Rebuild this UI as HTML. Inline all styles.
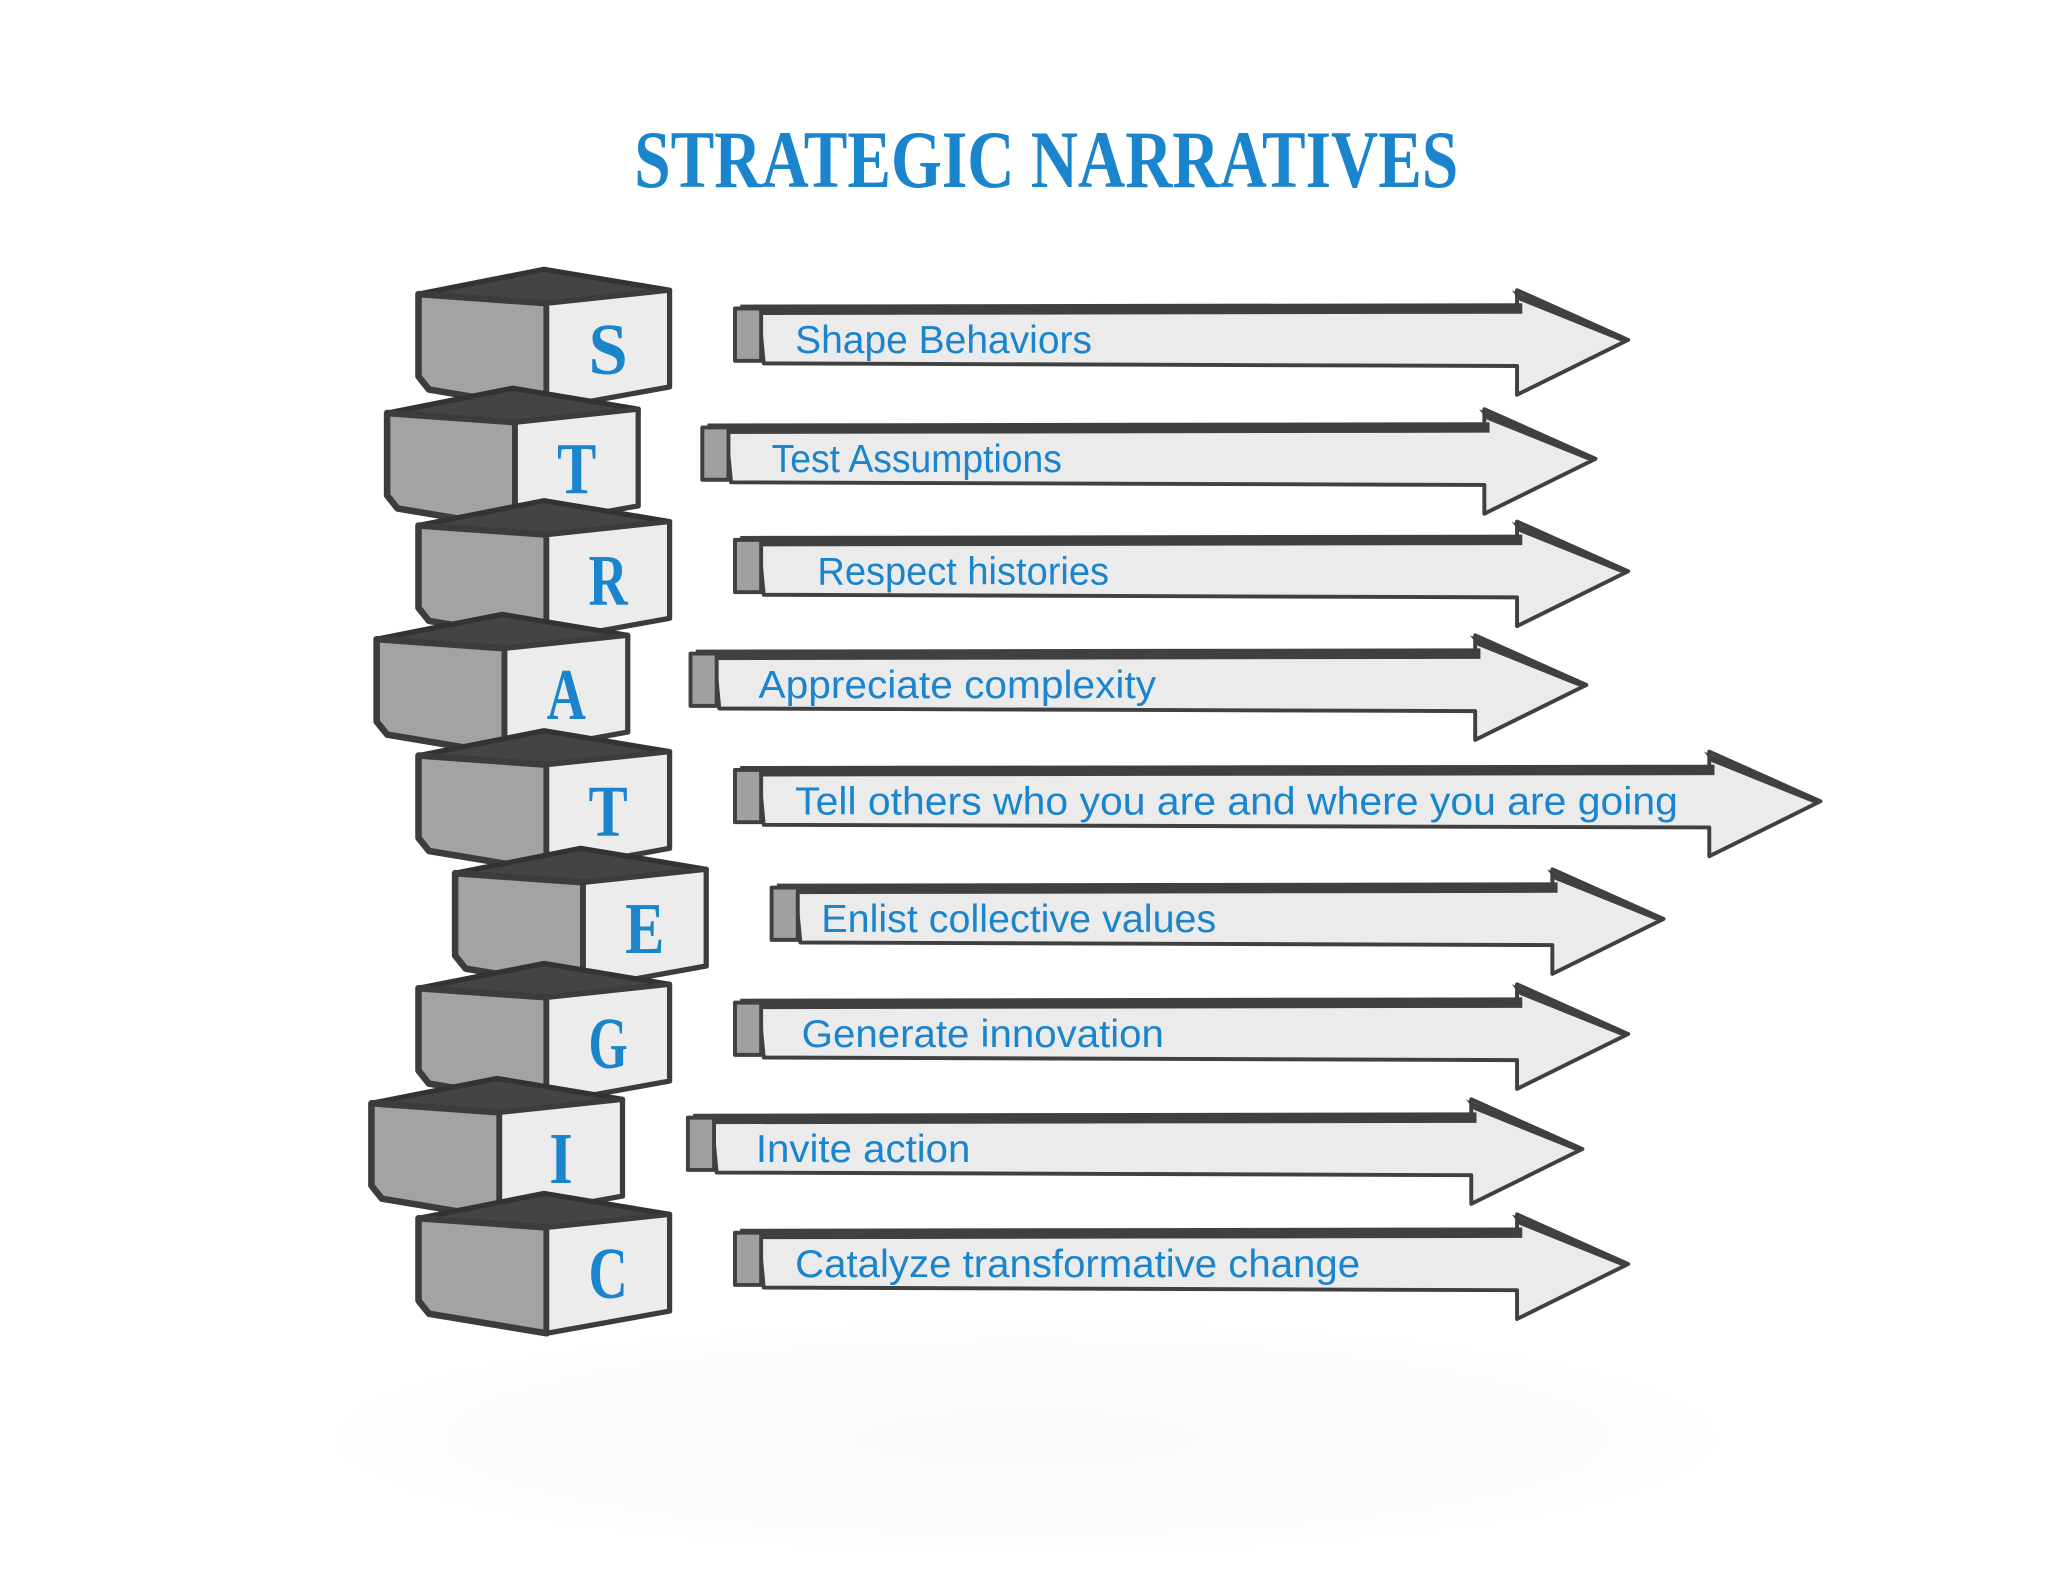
<!DOCTYPE html>
<html><head><meta charset="utf-8"><style>html,body{margin:0;padding:0;background:#fff}svg{display:block}</style></head>
<body>
<svg width="2048" height="1583" viewBox="0 0 1566 1211" preserveAspectRatio="none" xmlns="http://www.w3.org/2000/svg">
<defs>
<radialGradient id="sh" cx="0.5" cy="0.5" r="0.5"><stop offset="0" stop-color="#fbfafa"/><stop offset="0.7" stop-color="#fcfbfb"/><stop offset="1" stop-color="#fff"/></radialGradient>
<g id="cube">
<polygon points="0,-33 96,-52 192,-36 98,-26" fill="#444" stroke="#333" stroke-width="4" stroke-linejoin="round"/>
<polygon points="0,-33 98,-26 98,55 8,40 0,30" fill="#a3a3a3" stroke="#3c3c3c" stroke-width="5" stroke-linejoin="round"/>
<polygon points="98,-26 192,-36 192,38 98,55" fill="#ececec" stroke="#3c3c3c" stroke-width="4" stroke-linejoin="round"/>
</g>
</defs>
<ellipse cx="785" cy="1100" rx="540" ry="90" fill="url(#sh)"/>
<text x="800" y="143" text-anchor="middle" font-family="Liberation Serif, serif" font-weight="bold" font-size="62" fill="#1a84cc" textLength="630" lengthAdjust="spacingAndGlyphs">STRATEGIC NARRATIVES</text>

<g stroke-linejoin="round">
<g transform="translate(0,258)">
<use href="#cube" x="320" y="0"/>
<text x="465" y="28" text-anchor="middle" font-family="Liberation Serif, serif" font-weight="bold" font-size="56" fill="#1a84cc" textLength="30" lengthAdjust="spacingAndGlyphs">S</text>
<polygon points="580,-22 1160,-22 1160,-36 1245,2 1160,44 1160,22 584,20" fill="#ebebeb" stroke="#404040" stroke-width="3"/>
<line x1="566" y1="-21" x2="1164" y2="-22" stroke="#404040" stroke-width="8"/>
<polygon points="1156,-36 1245,2 1239,3 1162,-28" fill="#404040"/>
<rect x="562" y="-22" width="20" height="40" fill="#a0a0a0" stroke="#404040" stroke-width="3"/>
<text x="608" y="12" font-family="Liberation Sans, sans-serif" font-size="30" fill="#1a84cc" textLength="227" lengthAdjust="spacingAndGlyphs">Shape Behaviors</text>
</g>
<g transform="translate(0,349)">
<use href="#cube" x="296" y="0"/>
<text x="441" y="28" text-anchor="middle" font-family="Liberation Serif, serif" font-weight="bold" font-size="56" fill="#1a84cc" textLength="30" lengthAdjust="spacingAndGlyphs">T</text>
<polygon points="555,-22 1135,-22 1135,-36 1220,2 1135,44 1135,22 559,20" fill="#ebebeb" stroke="#404040" stroke-width="3"/>
<line x1="541" y1="-21" x2="1139" y2="-22" stroke="#404040" stroke-width="8"/>
<polygon points="1131,-36 1220,2 1214,3 1137,-28" fill="#404040"/>
<rect x="537" y="-22" width="20" height="40" fill="#a0a0a0" stroke="#404040" stroke-width="3"/>
<text x="590" y="12" font-family="Liberation Sans, sans-serif" font-size="30" fill="#1a84cc" textLength="222" lengthAdjust="spacingAndGlyphs">Test Assumptions</text>
</g>
<g transform="translate(0,435)">
<use href="#cube" x="320" y="0"/>
<text x="465" y="28" text-anchor="middle" font-family="Liberation Serif, serif" font-weight="bold" font-size="56" fill="#1a84cc" textLength="30" lengthAdjust="spacingAndGlyphs">R</text>
<polygon points="580,-22 1160,-22 1160,-36 1245,2 1160,44 1160,22 584,20" fill="#ebebeb" stroke="#404040" stroke-width="3"/>
<line x1="566" y1="-21" x2="1164" y2="-22" stroke="#404040" stroke-width="8"/>
<polygon points="1156,-36 1245,2 1239,3 1162,-28" fill="#404040"/>
<rect x="562" y="-22" width="20" height="40" fill="#a0a0a0" stroke="#404040" stroke-width="3"/>
<text x="625" y="12" font-family="Liberation Sans, sans-serif" font-size="30" fill="#1a84cc" textLength="223" lengthAdjust="spacingAndGlyphs">Respect histories</text>
</g>
<g transform="translate(0,522)">
<use href="#cube" x="288" y="0"/>
<text x="433" y="28" text-anchor="middle" font-family="Liberation Serif, serif" font-weight="bold" font-size="56" fill="#1a84cc" textLength="30" lengthAdjust="spacingAndGlyphs">A</text>
<polygon points="546,-22 1128,-22 1128,-36 1213,2 1128,44 1128,22 550,20" fill="#ebebeb" stroke="#404040" stroke-width="3"/>
<line x1="532" y1="-21" x2="1132" y2="-22" stroke="#404040" stroke-width="8"/>
<polygon points="1124,-36 1213,2 1207,3 1130,-28" fill="#404040"/>
<rect x="528" y="-22" width="20" height="40" fill="#a0a0a0" stroke="#404040" stroke-width="3"/>
<text x="580" y="12" font-family="Liberation Sans, sans-serif" font-size="30" fill="#1a84cc" textLength="304" lengthAdjust="spacingAndGlyphs">Appreciate complexity</text>
</g>
<g transform="translate(0,611)">
<use href="#cube" x="320" y="0"/>
<text x="465" y="28" text-anchor="middle" font-family="Liberation Serif, serif" font-weight="bold" font-size="56" fill="#1a84cc" textLength="30" lengthAdjust="spacingAndGlyphs">T</text>
<polygon points="580,-22 1307,-22 1307,-36 1392,2 1307,44 1307,22 584,20" fill="#ebebeb" stroke="#404040" stroke-width="3"/>
<line x1="566" y1="-21" x2="1311" y2="-22" stroke="#404040" stroke-width="8"/>
<polygon points="1303,-36 1392,2 1386,3 1309,-28" fill="#404040"/>
<rect x="562" y="-22" width="20" height="40" fill="#a0a0a0" stroke="#404040" stroke-width="3"/>
<text x="608" y="12" font-family="Liberation Sans, sans-serif" font-size="30" fill="#1a84cc" textLength="675" lengthAdjust="spacingAndGlyphs">Tell others who you are and where you are going</text>
</g>
<g transform="translate(0,701)">
<use href="#cube" x="348" y="0"/>
<text x="493" y="28" text-anchor="middle" font-family="Liberation Serif, serif" font-weight="bold" font-size="56" fill="#1a84cc" textLength="30" lengthAdjust="spacingAndGlyphs">E</text>
<polygon points="608,-22 1187,-22 1187,-36 1272,2 1187,44 1187,22 612,20" fill="#ebebeb" stroke="#404040" stroke-width="3"/>
<line x1="594" y1="-21" x2="1191" y2="-22" stroke="#404040" stroke-width="8"/>
<polygon points="1183,-36 1272,2 1266,3 1189,-28" fill="#404040"/>
<rect x="590" y="-22" width="20" height="40" fill="#a0a0a0" stroke="#404040" stroke-width="3"/>
<text x="628" y="12" font-family="Liberation Sans, sans-serif" font-size="30" fill="#1a84cc" textLength="302" lengthAdjust="spacingAndGlyphs">Enlist collective values</text>
</g>
<g transform="translate(0,789)">
<use href="#cube" x="320" y="0"/>
<text x="465" y="28" text-anchor="middle" font-family="Liberation Serif, serif" font-weight="bold" font-size="56" fill="#1a84cc" textLength="30" lengthAdjust="spacingAndGlyphs">G</text>
<polygon points="580,-22 1160,-22 1160,-36 1245,2 1160,44 1160,22 584,20" fill="#ebebeb" stroke="#404040" stroke-width="3"/>
<line x1="566" y1="-21" x2="1164" y2="-22" stroke="#404040" stroke-width="8"/>
<polygon points="1156,-36 1245,2 1239,3 1162,-28" fill="#404040"/>
<rect x="562" y="-22" width="20" height="40" fill="#a0a0a0" stroke="#404040" stroke-width="3"/>
<text x="613" y="12" font-family="Liberation Sans, sans-serif" font-size="30" fill="#1a84cc" textLength="277" lengthAdjust="spacingAndGlyphs">Generate innovation</text>
</g>
<g transform="translate(0,877)">
<use href="#cube" x="284" y="0"/>
<text x="429" y="28" text-anchor="middle" font-family="Liberation Serif, serif" font-weight="bold" font-size="56" fill="#1a84cc" textLength="18" lengthAdjust="spacingAndGlyphs">I</text>
<polygon points="544,-22 1125,-22 1125,-36 1210,2 1125,44 1125,22 548,20" fill="#ebebeb" stroke="#404040" stroke-width="3"/>
<line x1="530" y1="-21" x2="1129" y2="-22" stroke="#404040" stroke-width="8"/>
<polygon points="1121,-36 1210,2 1204,3 1127,-28" fill="#404040"/>
<rect x="526" y="-22" width="20" height="40" fill="#a0a0a0" stroke="#404040" stroke-width="3"/>
<text x="578" y="12" font-family="Liberation Sans, sans-serif" font-size="30" fill="#1a84cc" textLength="164" lengthAdjust="spacingAndGlyphs">Invite action</text>
</g>
<g transform="translate(0,965)">
<use href="#cube" x="320" y="0"/>
<text x="465" y="28" text-anchor="middle" font-family="Liberation Serif, serif" font-weight="bold" font-size="56" fill="#1a84cc" textLength="30" lengthAdjust="spacingAndGlyphs">C</text>
<polygon points="580,-22 1160,-22 1160,-36 1245,2 1160,44 1160,22 584,20" fill="#ebebeb" stroke="#404040" stroke-width="3"/>
<line x1="566" y1="-21" x2="1164" y2="-22" stroke="#404040" stroke-width="8"/>
<polygon points="1156,-36 1245,2 1239,3 1162,-28" fill="#404040"/>
<rect x="562" y="-22" width="20" height="40" fill="#a0a0a0" stroke="#404040" stroke-width="3"/>
<text x="608" y="12" font-family="Liberation Sans, sans-serif" font-size="30" fill="#1a84cc" textLength="432" lengthAdjust="spacingAndGlyphs">Catalyze transformative change</text>
</g>
</g>
</svg>
</body></html>
